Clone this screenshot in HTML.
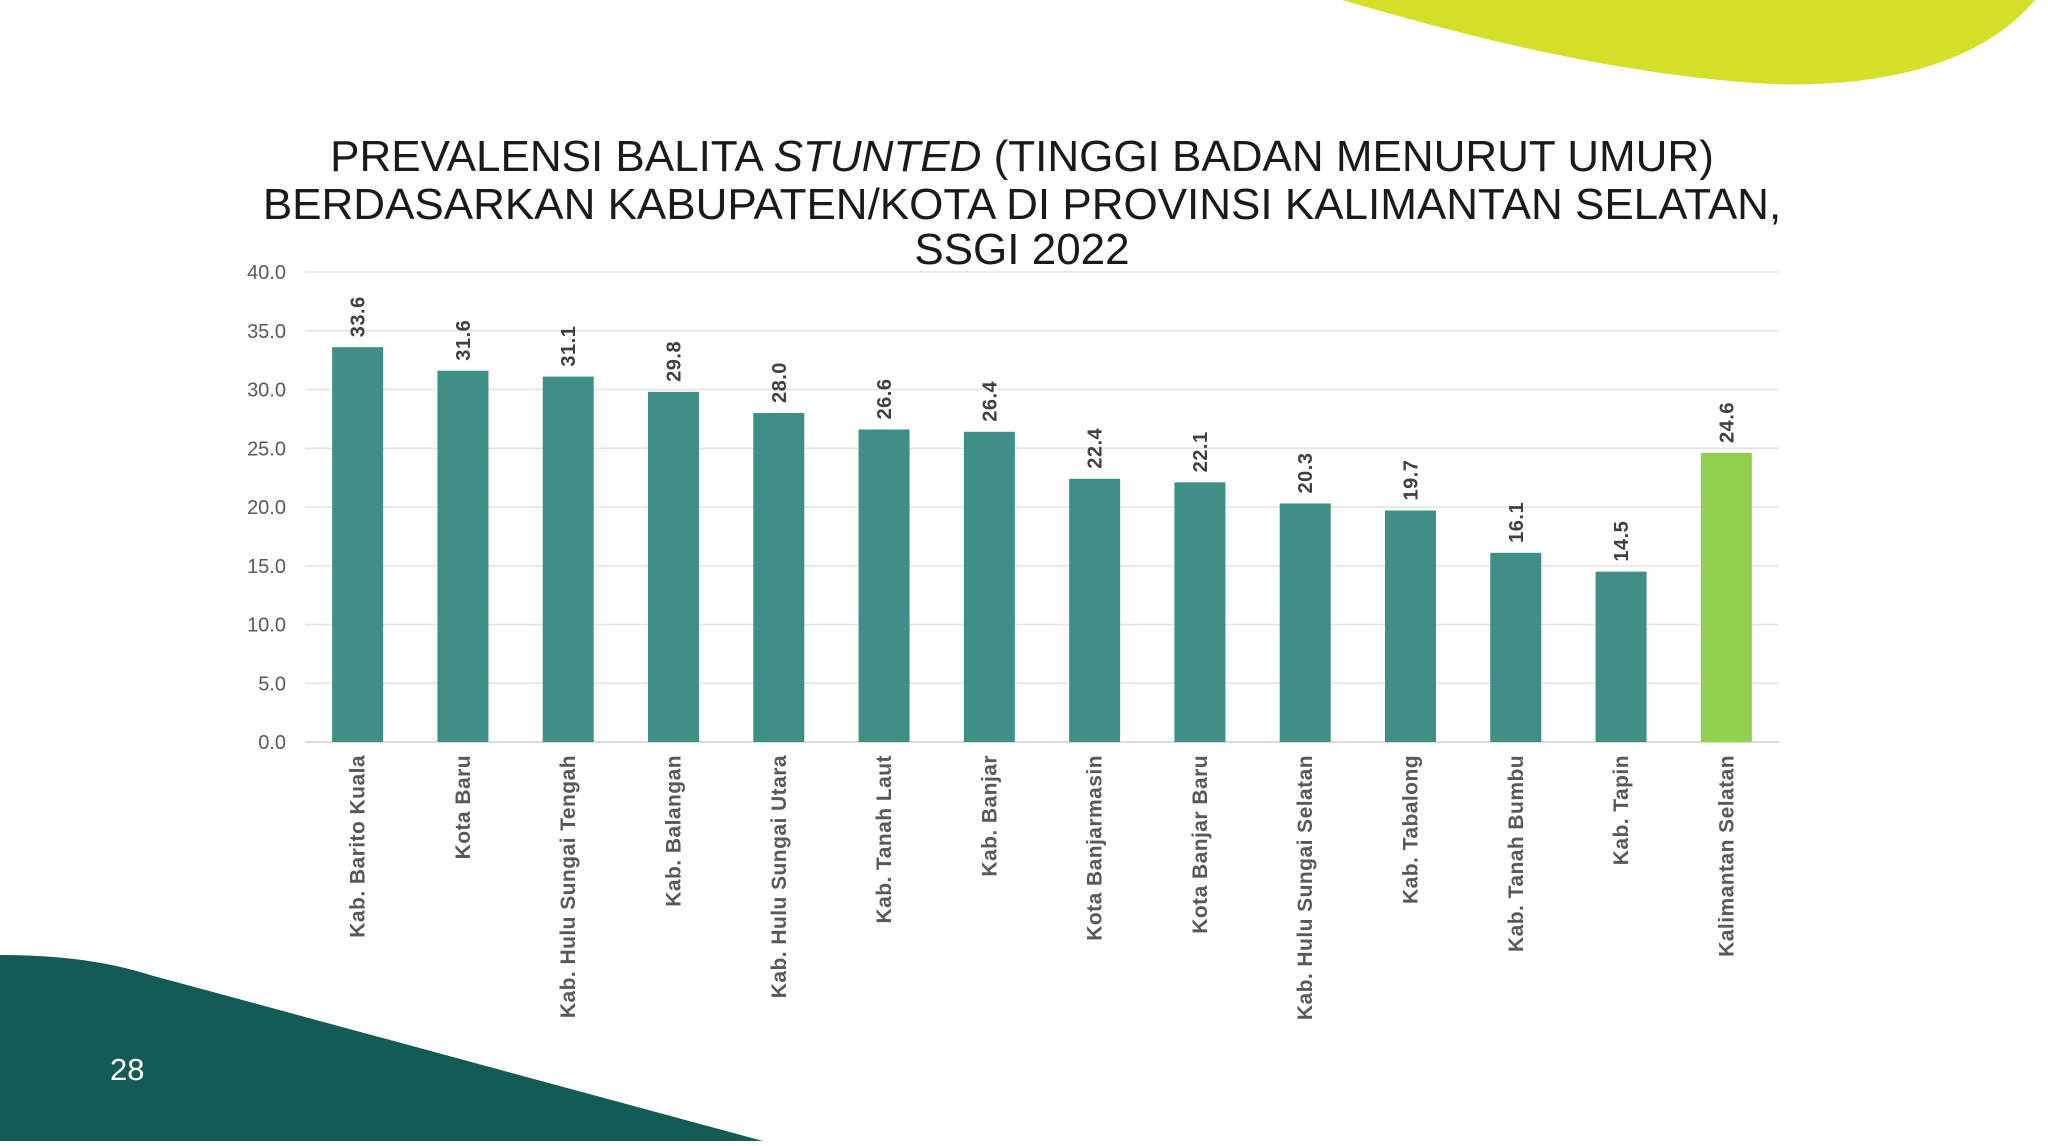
<!DOCTYPE html>
<html><head><meta charset="utf-8"><style>
body{margin:0;width:2048px;height:1141px;background:#fff;overflow:hidden;font-family:"Liberation Sans",sans-serif}
</style></head><body>
<svg width="2048" height="1141" viewBox="0 0 2048 1141">
<path d="M1342,0 L2035,0 C1980,65 1880,88 1770,84 C1620,75 1480,40 1342,0 Z" fill="#d4df2a"/>
<path d="M0,955 C60,955 110,962 150,975 L763,1141 L0,1141 Z" fill="#145a55"/>
<text x="110" y="1080" font-size="31" fill="#fff">28</text>
<g font-size="44" fill="#1a1a1a" text-anchor="middle">
<text x="1022" y="171">PREVALENSI BALITA <tspan font-style="italic">STUNTED</tspan> (TINGGI BADAN MENURUT UMUR)</text>
<text x="1022" y="219">BERDASARKAN KABUPATEN/KOTA DI PROVINSI KALIMANTAN SELATAN,</text>
<text x="1022" y="264">SSGI 2022</text>
</g>
<g id="grid"></g><g id="bars"></g><g id="labels"></g>
</svg>
<script>
const categories=["Kab. Barito Kuala","Kota Baru","Kab. Hulu Sungai Tengah","Kab. Balangan","Kab. Hulu Sungai Utara","Kab. Tanah Laut","Kab. Banjar","Kota Banjarmasin","Kota Banjar Baru","Kab. Hulu Sungai Selatan","Kab. Tabalong","Kab. Tanah Bumbu","Kab. Tapin","Kalimantan Selatan"];
const values=[33.6,31.6,31.1,29.8,28.0,26.6,26.4,22.4,22.1,20.3,19.7,16.1,14.5,24.6];
const ticks=[0,5,10,15,20,25,30,35,40];
const NS="http://www.w3.org/2000/svg";
const x0=305,x1=1779,y0=742,y1=272,vmax=40;
const band=(x1-x0)/categories.length,bw=51;
const y=v=>y0-(v/vmax)*(y0-y1);
const xc=i=>x0+band*(i+0.5);
function mk(t,a,p){const e=document.createElementNS(NS,t);for(const k in a)e.setAttribute(k,a[k]);p.appendChild(e);return e;}
const g=document.getElementById('grid'),b=document.getElementById('bars'),l=document.getElementById('labels');
ticks.forEach(t=>{
 const ln=mk('line',{x1:x0,x2:x1,y1:y(t),y2:y(t),stroke:t===0?'#d0d0d0':'#e3e3e3','stroke-width':1.5},g);
 
 
 const tx=mk('text',{x:286,y:y(t)+7,'text-anchor':'end','font-size':20,fill:'#595959'},g);
 
 
 tx.textContent=t.toFixed(1);
});
values.forEach((v,i)=>{
 const r=mk('rect',{x:xc(i)-bw/2,y:y(v),width:bw,height:y0-y(v),fill:i===values.length-1?'#92d050':'#3f8f86'},b);
 
 
 const vt=mk('text',{transform:`translate(${xc(i)+7},${y(v)-10}) rotate(-90)`,'font-size':20,'font-weight':'bold',fill:'#404040','letter-spacing':0.5},l);
 
 
 vt.textContent=v.toFixed(1);
 const ct=mk('text',{transform:`translate(${xc(i)+7},755) rotate(-90)`,'font-size':21,'font-weight':'bold',fill:'#595959','text-anchor':'end','letter-spacing':0.45},l);
 
 
 ct.textContent=categories[i];
});
</script>
</body></html>
